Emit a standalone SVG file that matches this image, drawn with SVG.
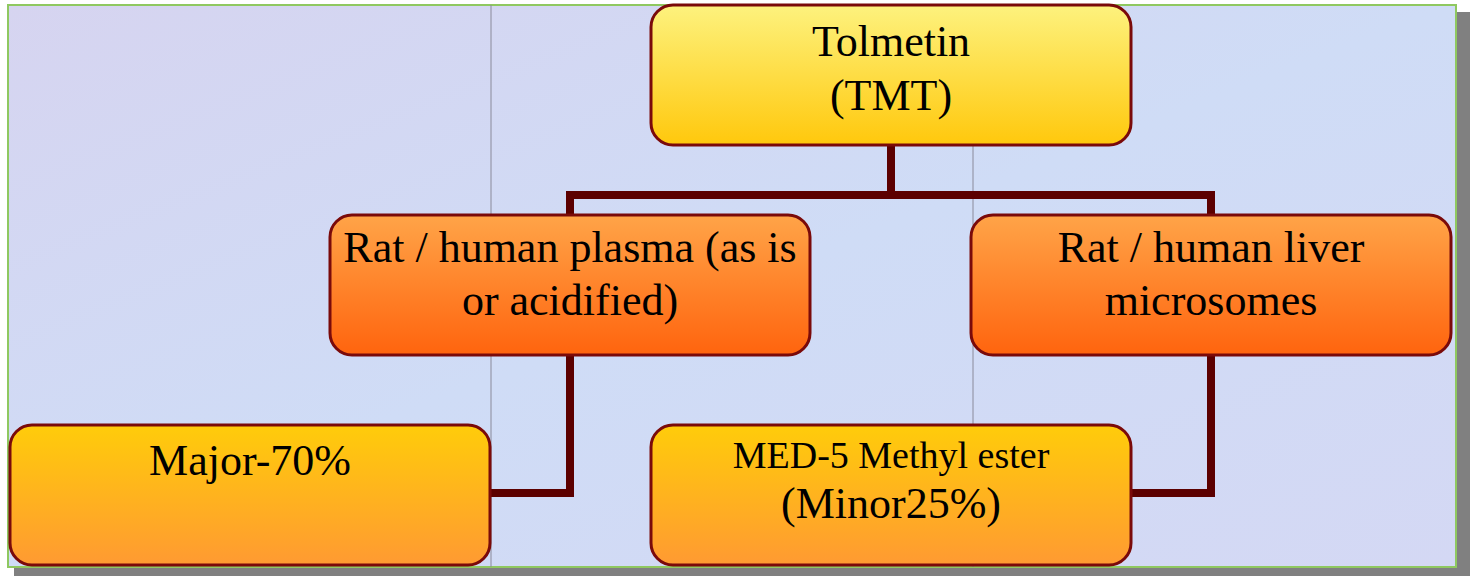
<svg xmlns="http://www.w3.org/2000/svg" width="1477" height="576" viewBox="0 0 1477 576">
<defs>
<linearGradient id="gY" x1="0" y1="0" x2="0" y2="1"><stop offset="0" stop-color="#fdf27e"/><stop offset="1" stop-color="#ffc80c"/></linearGradient>
<linearGradient id="gO" x1="0" y1="0" x2="0" y2="1"><stop offset="0" stop-color="#ffa448"/><stop offset="1" stop-color="#ff640e"/></linearGradient>
<linearGradient id="gL" x1="0" y1="0" x2="0" y2="1"><stop offset="0" stop-color="#ffcc0a"/><stop offset="1" stop-color="#ff9a32"/></linearGradient>
<linearGradient id="bg" x1="0" y1="0" x2="1" y2="1"><stop offset="0" stop-color="#d6d4f0"/><stop offset="0.5" stop-color="#cfdcf6"/><stop offset="1" stop-color="#d4d8f4"/></linearGradient>
</defs>
<style>
.box{stroke:#7a0a0a;stroke-width:3}
.t{font-family:"Liberation Serif","Times New Roman",serif;font-size:44px;fill:#000;text-anchor:middle}
.c{fill:none;stroke:#5c0000;stroke-width:8}
</style>
<rect x="14" y="12" width="1456" height="564" fill="#808080"/>
<rect x="8" y="5" width="1448" height="562" fill="url(#bg)" stroke="#8fc860" stroke-width="2"/>
<line x1="491" y1="5" x2="491" y2="567" stroke="#8a8a9a" stroke-width="1"/>
<line x1="973" y1="5" x2="973" y2="567" stroke="#8a8a9a" stroke-width="1"/>
<g id="connectors">
<path class="c" d="M891 145V195M570 215V195H1211V215"/>
<path class="c" d="M570 355V493H490"/>
<path class="c" d="M1211 355V493H1131"/>
</g>
<g id="tmt"><rect class="box" x="651" y="5" width="480" height="140" rx="22" fill="url(#gY)"/>
<text class="t" x="891" y="56">Tolmetin</text><text class="t" x="891" y="110">(TMT)</text></g>
<g id="plasma"><rect class="box" x="330" y="215" width="480" height="140" rx="22" fill="url(#gO)"/>
<text class="t" x="570" y="262">Rat / human plasma (as is</text><text class="t" x="570" y="315">or acidified)</text></g>
<g id="liver"><rect class="box" x="971" y="215" width="480" height="140" rx="22" fill="url(#gO)"/>
<text class="t" x="1211" y="262">Rat / human liver</text><text class="t" x="1211" y="315">microsomes</text></g>
<g id="major"><rect class="box" x="10" y="425" width="480" height="140" rx="22" fill="url(#gL)"/>
<text class="t" x="250" y="475">Major-70%</text></g>
<g id="med"><rect class="box" x="651" y="425" width="480" height="140" rx="22" fill="url(#gL)"/>
<text class="t" x="891" y="468" style="font-size:38px">MED-5 Methyl ester</text><text class="t" x="891" y="518">(Minor25%)</text></g>
</svg>
